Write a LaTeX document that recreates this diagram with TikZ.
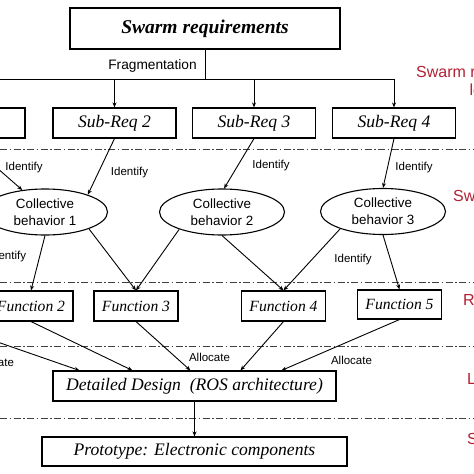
\documentclass[tikz,border=0pt]{standalone}
\usepackage{fontspec}
\setmainfont{Liberation Serif}
\setsansfont{Liberation Sans}
\usetikzlibrary{shapes.geometric,arrows.meta}
\definecolor{lvl}{RGB}{178,34,52}
\begin{document}
\begin{tikzpicture}[x=1pt,y=-1pt,
 box/.style={draw,line width=1.1pt,inner sep=0pt,font=\fontsize{17.6}{20}\selectfont\itshape},
 fnbox/.style={box,minimum width=84pt,minimum height=30pt,font=\fontsize{15.6}{18}\selectfont\itshape},
 srbox/.style={box,minimum width=123pt,minimum height=30pt},
 cb/.style={draw,ellipse,line width=1.1pt,inner sep=0pt,minimum width=125pt,minimum height=46pt,align=center,font=\sffamily\fontsize{13.4}{17}\selectfont},
 lab/.style={font=\sffamily\fontsize{11.5}{13}\selectfont,inner sep=0pt},
 arr/.style={line width=0.9pt,-{Stealth[length=5pt,width=4pt]}},
 sepline/.style={line width=0.9pt,black!75,dash pattern=on 7pt off 2.5pt on 1.5pt off 2.5pt},
 lvltext/.style={text=lvl,font=\sffamily\fontsize{16}{18}\selectfont,inner sep=0pt,align=center}
]
\useasboundingbox (0,0) rectangle (474,474);
\fill[white] (0,0) rectangle (474,474);
\clip (0,0) rectangle (474,474);

% separators
\draw[sepline] (0,149) -- (474,149);
\draw[sepline] (0,282) -- (474,282);
\draw[sepline] (0,346) -- (474,346);
\draw[sepline] (0,418) -- (474,418);

% level labels (red)
\node[lvltext] (lv1) at (486,81) {Swarm requirement\\level};
\node[lvltext,anchor=west] (lv2) at (453,196) {Swarm behavior level};
\node[lvltext,anchor=west] (lv3) at (463,300) {Robot function level};
\node[lvltext,anchor=west] (lv4) at (467,380) {Logical level};
\node[lvltext,anchor=west] (lv5) at (467,440) {System level};

% top
\node[box,minimum width=270pt,minimum height=41pt,font=\fontsize{19.5}{22}\selectfont\bfseries\itshape] (req) at (205,28.5) {Swarm requirements};
\coordinate (fj) at (205,79);
\coordinate (hl) at (-37,79);
\coordinate (hr) at (394,79);
\draw[line width=0.9pt] (req.south) -- (fj);
\draw[line width=0.9pt] (hl) -- (hr);
\node[lab,font=\sffamily\fontsize{13.7}{15}\selectfont] (frag) at (152.5,66) {Fragmentation};

% sub requirements
\node[srbox] (s1) at (-36.5,123) {};
\node[srbox] (s2) at (114.5,123) {Sub-Req 2};
\node[srbox] (s3) at (254,123) {Sub-Req 3};
\node[srbox] (s4) at (394,123) {Sub-Req 4};
\draw[arr] (s1.north |- fj) -- (s1.north);
\draw[arr] (s2.north |- fj) -- (s2.north);
\draw[arr] (s3.north |- fj) -- (s3.north);
\draw[arr] (s4.north |- fj) -- (s4.north);

% collective behaviours
\node[cb] (e1) at (45,212) {Collective\\behavior 1};
\node[cb] (e2) at (222,212) {Collective\\behavior 2};
\node[cb] (e3) at (383,211.5) {Collective\\behavior 3};

\draw[arr] (s1.south) -- (e1.136);
\draw[arr] (s2.south) -- (e1.22);
\draw[arr] (s3.south) -- (e2.85);
\draw[arr] (s4.south) -- (e3.north);
\node[lab] (id1) at (24,168) {Identify};
\node[lab] (id2) at (129.5,172.5) {Identify};
\node[lab] (id3) at (271,166) {Identify};
\node[lab] (id4) at (414,168) {Identify};

% functions
\node[fnbox] (f2) at (31,306) {Function 2};
\node[fnbox] (f3) at (136,306) {Function 3};
\node[fnbox] (f4) at (283.5,306) {Function 4};
\node[fnbox,minimum height=29pt] (f5) at (399.5,304.5) {Function 5};

\draw[arr] (e1.south) -- (f2.north);
\draw[arr] (e1.-21) -- (f3.north);
\draw[arr] (e2.202) -- (f3.north);
\draw[arr] (e2.south) -- (f4.north);
\draw[arr] (e3.202) -- (f4.north);
\draw[arr] (e3.south) -- (f5.north);
\node[lab] (id5) at (7.5,257) {Identify};
\node[lab] (id6) at (353,260) {Identify};

% detailed design
\node[box,minimum width=283pt,minimum height=30pt] (dd) at (194.5,386) {Detailed Design\ \ (ROS architecture)};
\coordinate (f1) at (-40,329);
\draw[arr] (f1) -- ([xshift=27pt]dd.north west);
\draw[arr] (f2.south) -- ([xshift=80pt]dd.north west);
\draw[arr] (f3.south) -- ([xshift=138pt]dd.north west);
\draw[arr] (f4.south) -- ([xshift=188pt]dd.north west);
\draw[arr] (f5.south) -- ([xshift=229pt]dd.north west);
\node[lab] (al1) at (-6.5,362.5) {Allocate};
\node[lab] (al2) at (209.5,357.5) {Allocate};
\node[lab] (al3) at (351.5,360) {Allocate};

% prototype
\node[box,minimum width=305pt,minimum height=29pt] (pr) at (194.5,451.5) {Prototype: Electronic components};
\draw[arr] (dd.south) -- (pr.north);
\end{tikzpicture}
\end{document}
